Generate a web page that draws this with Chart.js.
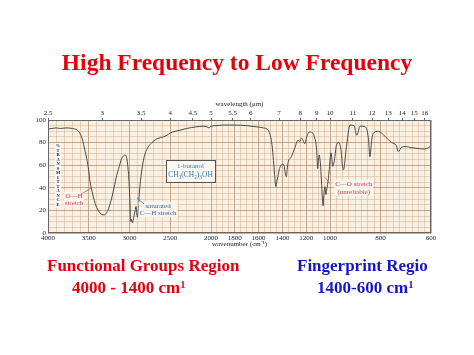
<!DOCTYPE html>
<html>
<head>
<meta charset="utf-8">
<script src="https://cdn.jsdelivr.net/npm/chart.js@4.4.1/dist/chart.umd.min.js"></script>
<style>
  body { margin: 0; background: #fff; }
  #wrap { position: relative; width: 474px; height: 355px; overflow: hidden; }
  canvas { position: absolute; left: 0; top: 0; }
  .t { position: absolute; font-family: 'Liberation Serif', 'Times New Roman', serif; font-weight: bold; white-space: nowrap; line-height: 1; }
  .red { color: #e3000f; }
  .blue { color: #1616c4; }
  sup { font-size: 0.62em; vertical-align: 0.5em; line-height: 0; }
</style>
</head>
<body>
<div id="wrap">
  <canvas id="c" width="474" height="355"></canvas>
  <div class="t red" style="left:0;width:474px;text-align:center;top:51px;font-size:23.5px">High Frequency to Low Frequency</div>
  <div class="t red" style="left:47px;top:257px;font-size:17px">Functional Groups Region</div>
  <div class="t red" style="left:72px;top:279px;font-size:17px">4000 - 1400 cm<sup>1</sup></div>
  <div class="t blue" style="left:297px;top:257px;font-size:17px">Fingerprint Regio</div>
  <div class="t blue" style="left:317px;top:279px;font-size:17px">1400-600 cm<sup>1</sup></div>
</div>
<script>
/*
IR spectrum of 1-butanol on split chart paper
*/

// spectrum: wavenumber (cm-1) and % transmittance
const wavenumber = [
  4000, 3950, 3900, 3850, 3780, 3700, 3650, 3620, 3600, 3575, 3550, 3525, 3500, 3485, 3460, 3444,
  3420, 3402, 3370, 3341, 3310, 3280, 3250, 3218, 3190, 3157, 3125, 3096, 3070, 3055, 3040, 3027,
  3012, 3002, 2992, 2985, 2975, 2965, 2955, 2945, 2930, 2920, 2912, 2904, 2895, 2883, 2870, 2850,
  2830, 2810, 2780, 2740, 2710, 2660, 2585, 2540, 2500, 2440, 2380, 2300, 2175, 2100, 2050, 2025,
  2010, 2000, 1950, 1900, 1800, 1700, 1620, 1560, 1530, 1510, 1490, 1478, 1466, 1455, 1446, 1438,
  1424, 1410, 1396, 1385, 1375, 1367, 1360, 1353, 1325, 1297, 1269, 1254, 1240, 1226, 1212, 1198,
  1185, 1169, 1155, 1141, 1128, 1119, 1110, 1104, 1097, 1091, 1084, 1078, 1070, 1063, 1058, 1050,
  1042, 1035, 1028, 1020, 1008, 996, 989, 983, 973, 965, 957, 950, 947, 934, 921, 905,
  894, 881, 861, 848, 842, 835, 829, 809, 782, 756, 738, 729, 716, 700, 680, 660,
  640, 624, 610, 600
];
const transmittance = [
  92, 92.5, 93, 92.5, 93, 92.5, 91.5, 89.5, 87, 82, 74, 66, 55, 46, 37, 32,
  26, 22.5, 18.5, 16.5, 16, 18, 23, 31, 40, 51, 59, 66, 68.5, 69, 68, 63,
  52, 40, 22, 10, 12, 9, 11, 15, 20, 23.5, 18, 14, 17, 32, 43, 55,
  64, 70, 75, 79, 81, 83.5, 85, 86.5, 88.5, 90, 91, 92.5, 94, 94.5, 94, 93,
  94, 94.5, 95, 95.5, 95.5, 95, 94, 93, 92, 89, 80, 68, 52, 41, 46, 50,
  57, 60, 61, 59, 52, 50, 56, 62, 67.5, 75, 82, 81, 84, 82, 79, 84,
  88, 89.5, 89, 88, 84, 80, 70, 57, 64, 69, 65, 58, 42, 28, 24, 36,
  41, 34, 38, 43, 54, 71, 59, 64, 79, 80, 74, 58, 56, 78, 95.5, 95,
  86.5, 94.5, 94, 84, 67.5, 82, 88, 90, 85.5, 80, 77.5, 72, 76, 76.5, 75.5, 75,
  74.5, 74.3, 75.5, 77
];

// axis labels
const wavenumberLabels = [4000, 3500, 3000, 2500, 2000, 1800, 1600, 1400, 1200, 1000, 800, 600];
const wavelengthLabels = [2.5, 3, 3.5, 4, 4.5, 5, 5.5, 6, 7, 8, 9, 10, 11, 12, 13, 14, 15, 16];
const transmittanceLabels = [0, 20, 40, 60, 80, 100];

// the paper is linear in three pieces: 4000-2000, 2000-1000, 1000-600
const breaks = [[4000, 0], [2000, 0.4256], [1000, 0.7363], [600, 1]];

function toDecimal(v) {
  for (let i = 1; i < breaks.length; i++) {
    const [w0, d0] = breaks[i - 1], [w1, d1] = breaks[i];
    if (v >= w1 || i === breaks.length - 1) return d0 + (w0 - v) / (w0 - w1) * (d1 - d0);
  }
}

function fromDecimal(d) {
  for (let i = 1; i < breaks.length; i++) {
    const [w0, d0] = breaks[i - 1], [w1, d1] = breaks[i];
    if (d <= d1 || i === breaks.length - 1) return w0 - (d - d0) / (d1 - d0) * (w0 - w1);
  }
}

// wavenumber scale with the piecewise mapping
class WavenumberScale extends Chart.LinearScale {
  getPixelForValue(v) { return this.getPixelForDecimal(toDecimal(v)); }
  getValueForPixel(p) { return fromDecimal(this.getDecimalForPixel(p)); }
}
WavenumberScale.id = 'wavenumber';
WavenumberScale.defaults = Chart.LinearScale.defaults;
Chart.register(WavenumberScale);

// grid lines of the chart paper
const gridX = [];
for (let w = 4000; w > 2000; w -= 100) gridX.push(w);
for (let w = 2000; w > 1000; w -= 50) gridX.push(w);
for (let w = 1000; w >= 600; w -= 25) gridX.push(w);
const gridY = [];
for (let t = 0; t <= 100; t += 5) gridY.push(t);

const serif = "'Liberation Serif', 'Times New Roman', serif";
const tickFont = { family: serif, size: 7 };
const minorLine = 'rgba(205,165,125,0.42)';
const majorLine = 'rgba(165,120,85,0.6)';

// notes written on the paper, anchored at (wavenumber, %T)
const notes = [
  { lines: ['O\u2014H', 'stretch'], at: [3681, 32.7], step: 7, color: '#c2405d', lead: [[3599, 34.2], [3464, 40.1]] },
  { lines: ['saturated', 'C\u2014H stretch'], at: [2650, 23.9], step: 7.3, color: '#3563a8', lead: [[2908, 31], [2822, 25.7]] },
  { lines: ['C\u2014O stretch', '(unreliable)'], at: [906, 43.4], step: 7.7, color: '#c2405d', lead: [[1042, 49.1], [1000, 43.8]] }
];
const box = { from: [2552, 64.6], to: [1966, 45.4], color: '#3a78b5' };

// text runs with subscripts, centred on cx
function drawRuns(ctx, runs, cx, y, size) {
  ctx.textAlign = 'left';
  const w = runs.reduce((s, [t, sub]) => {
    ctx.font = `${sub ? size * 0.7 : size}px ${serif}`;
    return s + ctx.measureText(t).width;
  }, 0);
  let x = cx - w / 2;
  for (const [t, sub] of runs) {
    ctx.font = `${sub ? size * 0.7 : size}px ${serif}`;
    ctx.fillText(t, x, y + (sub ? 2 : 0));
    x += ctx.measureText(t).width;
  }
  ctx.textAlign = 'center';
}

const paperPlugin = {
  id: 'paper',
  beforeDraw(chart) {
    const { ctx, chartArea: a } = chart;
    ctx.save();
    ctx.fillStyle = '#f8f0e2';
    ctx.fillRect(a.left, a.top, a.width, a.height);
    ctx.restore();
  },
  afterDatasetsDraw(chart) {
    const { ctx, chartArea: a, scales } = chart;
    const px = w => scales.x.getPixelForValue(w);
    const py = t => scales.y.getPixelForValue(t);
    ctx.save();

    // frame
    ctx.strokeStyle = '#666';
    ctx.lineWidth = 1;
    ctx.strokeRect(a.left + 0.5, a.top + 0.5, a.width - 1, a.height - 1);

    // % TRANSMITTANCE, stacked letters
    const word = '%TRANSMITTANCE';
    ctx.fillStyle = 'rgba(255,255,255,0.8)';
    ctx.fillRect(a.left + 7, a.top + 23, 6, word.length * 4.5 + 2);
    ctx.fillStyle = '#222';
    ctx.font = `bold 4.5px ${serif}`;
    ctx.textAlign = 'center';
    ctx.textBaseline = 'middle';
    [...word].forEach((c, i) => ctx.fillText(c, a.left + 10, a.top + 26 + i * 4.5));

    // 1-butanol box
    const x0 = px(box.from[0]), x1 = px(box.to[0]), y0 = py(box.from[1]), y1 = py(box.to[1]);
    ctx.fillStyle = '#fbf8f1';
    ctx.fillRect(x0, y0, x1 - x0, y1 - y0);
    ctx.strokeStyle = '#555';
    ctx.strokeRect(Math.round(x0) + 0.5, Math.round(y0) + 0.5, Math.round(x1 - x0), Math.round(y1 - y0));
    ctx.fillStyle = box.color;
    ctx.font = `7px ${serif}`;
    ctx.fillText('1-butanol', (x0 + x1) / 2, y0 + 6.5);
    drawRuns(ctx, [['CH', 0], ['3', 1], ['(CH', 0], ['2', 1], [')', 0], ['3', 1], ['OH', 0]], (x0 + x1) / 2, y0 + 15.5, 7.5);

    // labels with leader lines
    ctx.textAlign = 'center';
    for (const n of notes) {
      const cx = px(n.at[0]), cy = py(n.at[1]);
      ctx.font = `7px ${serif}`;
      const w = Math.max(...n.lines.map(l => ctx.measureText(l).width));
      ctx.fillStyle = 'rgba(252,248,240,0.85)';
      ctx.fillRect(cx - w / 2 - 1, cy - 4.5, w + 2, n.step * n.lines.length + 1);
      ctx.fillStyle = n.color;
      n.lines.forEach((l, i) => ctx.fillText(l, cx, cy + i * n.step));
      ctx.strokeStyle = n.color;
      ctx.lineWidth = 0.7;
      ctx.beginPath();
      ctx.moveTo(px(n.lead[0][0]), py(n.lead[0][1]));
      ctx.lineTo(px(n.lead[1][0]), py(n.lead[1][1]));
      ctx.stroke();
    }
    ctx.restore();
  }
};

new Chart(document.getElementById('c'), {
  type: 'line',
  data: {
    datasets: [{
      data: wavenumber.map((w, i) => ({ x: w, y: transmittance[i] })),
      borderColor: '#4a4a4a',
      borderWidth: 1,
      pointRadius: 0,
      cubicInterpolationMode: 'monotone',
      fill: false
    }]
  },
  options: {
    responsive: false,
    animation: false,
    devicePixelRatio: 1,
    layout: { padding: { left: 0, right: 43, top: 100, bottom: 107 } },
    plugins: { legend: { display: false }, tooltip: { enabled: false } },
    scales: {
      x: {
        type: 'wavenumber', position: 'bottom', min: 600, max: 4000, bounds: 'data',
        afterBuildTicks: s => { s.ticks = gridX.map(value => ({ value })); },
        afterFit: s => { s.height = 15; },
        ticks: {
          autoSkip: false, maxRotation: 0, minRotation: 0, padding: 1, font: tickFont, color: '#222',
          callback: v => wavenumberLabels.includes(v) ? String(v) : ''
        },
        grid: { drawTicks: false, lineWidth: 1, color: c => wavenumberLabels.includes(c.tick.value) ? majorLine : minorLine },
        border: { display: false },
        title: { display: true, text: 'wavenumber (cm\u207B\u00B9)', padding: 0, font: tickFont, color: '#222' }
      },
      x2: {
        type: 'wavenumber', position: 'top', min: 600, max: 4000, bounds: 'data',
        afterBuildTicks: s => { s.ticks = wavelengthLabels.map(l => ({ value: 10000 / l })); },
        afterFit: s => { s.height = 20; },
        ticks: {
          autoSkip: false, maxRotation: 0, minRotation: 0, padding: 1, font: tickFont, color: '#222',
          callback: v => String(+(10000 / v).toFixed(1))
        },
        grid: { drawOnChartArea: false, tickLength: 2, color: '#666' },
        border: { display: false },
        title: { display: true, text: 'wavelength (\u03BCm)', padding: 0, font: tickFont, color: '#222' }
      },
      y: {
        min: 0, max: 100,
        afterBuildTicks: s => { s.ticks = gridY.map(value => ({ value })); },
        afterFit: s => { s.width = 48; },
        ticks: {
          autoSkip: false, padding: 2, font: tickFont, color: '#222',
          callback: v => transmittanceLabels.includes(v) ? String(v) : ''
        },
        grid: { drawTicks: false, lineWidth: 1, color: c => c.tick.value % 20 === 0 ? majorLine : minorLine },
        border: { display: false }
      }
    }
  },
  plugins: [paperPlugin]
});
</script>
</body>
</html>
